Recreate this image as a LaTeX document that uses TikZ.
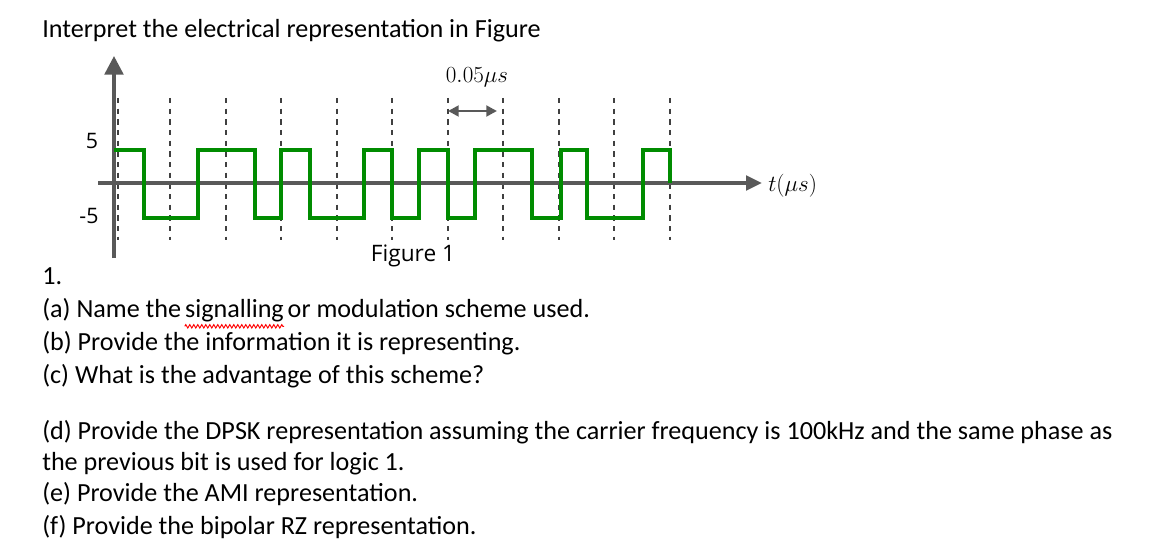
\documentclass[tikz,border=0pt]{standalone}
\usepackage{fontspec}
\setmainfont{Carlito}
\newfontfamily\lbl{Open Sans}
\usetikzlibrary{arrows.meta,decorations.pathmorphing}
\begin{document}
\begin{tikzpicture}[x=0.75pt,y=-0.75pt,
  txt/.style={anchor=base west,inner sep=0,font=\fontsize{19.6}{23}\selectfont},
  axis/.style={draw=gray!70!black,line width=2.6pt},
  grid/.style={draw=black!75,line width=1.5pt,dash pattern=on 4pt off 4pt},
  sig/.style={draw=green!55!black,line width=2.4pt},
  lab/.style={inner sep=0,font=\lbl\fontsize{16}{18}\selectfont}]
\useasboundingbox (0,0) rectangle (1150,560);
\node[txt] (title) at (42,38) {Interpret the electrical representation in Figure};
% grid
\foreach \x in {118,170,226,281,337,392,448,503,559,614,670}
  \draw[grid] (\x,98) -- (\x,240);
% axes
\coordinate (o) at (114,183);
\coordinate (ytop) at (114,56);
\coordinate (ybot) at (114,258);
\coordinate (xend) at (762,183);
\draw[axis,-{Triangle[length=14pt,width=14pt]}] (ybot) -- (ytop);
\draw[axis,-{Triangle[length=12pt,width=11pt]}] (98,183) -- (xend);
% signal
\draw[sig] (114,150) -- (144,150) -- (144,218) -- (198,218) -- (198,150) -- (255,150) -- (255,218)
  -- (281,218) -- (281,150) -- (310,150) -- (310,218) -- (364,218) -- (364,150) -- (392,150)
  -- (392,218) -- (419,218) -- (419,150) -- (448,150) -- (448,218) -- (475,218) -- (475,150)
  -- (532,150) -- (532,218) -- (561,218) -- (561,150) -- (587,150) -- (587,218) -- (643,218)
  -- (643,150) -- (670,150) -- (670,183);
% labels
\node[lab] (five) at (92,141) {5};
\node[lab] (mfive) at (89,216) {-5};
\node[lab,font=\fontsize{18}{20}\selectfont] (t) [anchor=west] at (768,186) {$t(\mu s)$};
\node[lab,font=\fontsize{16}{18}\selectfont] (dt) at (477,77) {$0.05\mu s$};
\coordinate (a1) at (448,111);
\coordinate (a2) at (497,111);
\draw[draw=gray!70!black,line width=2pt,{Triangle[length=8pt,width=8pt]}-{Triangle[length=8pt,width=8pt]}] (a1) -- (a2);
\node[lab,font=\lbl\fontsize{17}{19}\selectfont] (fig) at (413,256) {Figure 1};
% questions
\node[txt] (q1) at (42,284) {1.};
\node[txt] (qa) at (42,317) {(a) Name the};
\node[txt] (qas) at ([xshift=0.25em]qa.base east) {signalling};
\node[txt] (qar) at ([xshift=0.25em]qas.base east) {or modulation scheme used.};
\draw[red,line width=0.7pt,decorate,decoration={zigzag,amplitude=1.3pt,segment length=3pt}]
  ([yshift=-7pt]qas.base west) -- ([yshift=-7pt]qas.base east);
\node[txt] (qb) at (42,350) {(b) Provide the information it is representing.};
\node[txt] (qc) at (42,383) {(c) What is the advantage of this scheme?};
\node[txt] (qd) at (42,439) {(d) Provide the DPSK representation assuming the carrier frequency is 100kHz and the same phase as};
\node[txt] (qd2) at (42,470) {the previous bit is used for logic 1.};
\node[txt] (qe) at (42,501) {(e) Provide the AMI representation.};
\node[txt] (qf) at (42,534) {(f) Provide the bipolar RZ representation.};
\end{tikzpicture}
\end{document}
